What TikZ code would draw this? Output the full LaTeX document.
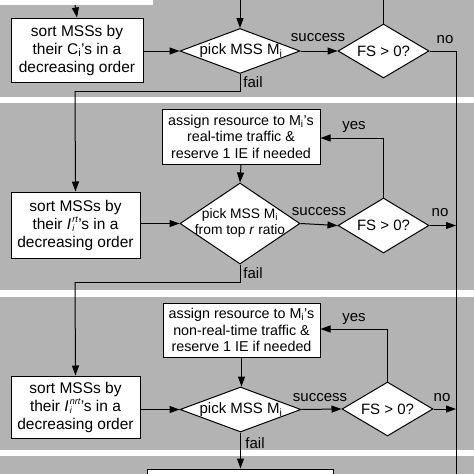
\documentclass[tikz,border=0pt]{standalone}
\usepackage{fontspec}
\setmainfont{Liberation Sans}
\usetikzlibrary{arrows.meta,shapes.geometric}
\definecolor{panelgray}{RGB}{179,179,179}
\newcommand{\supsub}[2]{\kern1pt\raisebox{-2.6pt}{\fontsize{9}{9}\selectfont\itshape\shortstack[l]{#1\\#2}}\kern0.5pt}
\begin{document}
\begin{tikzpicture}[x=1pt,y=-1pt,
  box/.style={draw=black, fill=white, line width=1pt, inner sep=0pt, align=center, font=\fontsize{15.5}{18}\selectfont},
  abox/.style={box, font=\fontsize{14.3}{16.5}\selectfont},
  dia/.style={draw=black, fill=white, line width=1pt, shape=diamond, inner sep=0pt},
  txt/.style={inner sep=0pt, align=center, font=\fontsize{15}{16}\selectfont},
  txtb/.style={txt, font=\fontsize{13.8}{16}\selectfont},
  lbl/.style={inner sep=0pt, font=\fontsize{15}{15}\selectfont},
  arr/.style={line width=1pt, -{Triangle[length=10pt,width=7pt]}},
  ln/.style={line width=1pt}
]
\useasboundingbox (0,0) rectangle (474,474);
% panels
\fill[white] (0,0) rectangle (474,474);
\fill[panelgray] (0,0) rectangle (474,97);
\fill[panelgray] (0,103) rectangle (474,290);
\fill[panelgray] (0,297) rectangle (474,450);
\fill[panelgray] (0,456) rectangle (474,474);
\fill[white] (0,0) rectangle (153,5);

% coordinates at picture edges
\coordinate (in1) at (75,5);
\coordinate (in2) at (240,0);
\coordinate (up1) at (383.5,0);
\coordinate (c1) at (456,51);
\coordinate (bot) at (456,474);

% panel 1
\node[box, minimum width=132, minimum height=64] (sort1) at (77,50) {sort MSSs by\\their C\textsubscript{i}’s in a\\decreasing order};
\node[dia, minimum width=120, minimum height=45] (d1) at (240,51) {};
\node[txt] (d1t) at (241,51) {pick MSS M\textsubscript{i}};
\node[dia, minimum width=91, minimum height=54] (fs1) at (383.5,51) {};
\node[txt] (fs1t) at (383.5,51) {FS > 0?};

\draw[arr] (in1) -- (sort1.north);
\draw[arr] (in2) -- (d1.north);
\draw[arr] (sort1.east |- d1.west) -- (d1.west);
\draw[arr] (d1.east) -- (fs1.west);
\draw[ln] (fs1.north) -- (up1);
\draw[ln] (fs1.east) -- (c1) -- (bot);
\node[lbl] (s1) at (318,38) {success};
\node[lbl] (f1) at (253,82) {fail};
\node[lbl] (n1) at (445,40) {no};

% panel 2
\node[abox, minimum width=158, minimum height=55] (as2) at (241,136.5) {assign resource to M\textsubscript{i}’s\\real-time traffic \&\\reserve 1 IE if needed};
\node[dia, minimum width=120, minimum height=81] (d2) at (240,223.5) {};
\node[txtb] (d2t) at (240,223) {pick MSS M\textsubscript{i}\\from top \textit{r} ratio};
\node[box, minimum width=129, minimum height=66] (sort2) at (75.5,225) {sort MSSs by\\their \textit{I}\supsub{rt}{i}’s in a\\decreasing order};
\node[dia, minimum width=91, minimum height=55] (fs2) at (383.5,225.5) {};
\node[txt] (fs2t) at (383.5,225.5) {FS > 0?};
\coordinate (y2) at (383.5,138);
\coordinate (n2e) at (456,225.5);

\draw[ln] (d1.south) -- (240,91) -- (75,91) coordinate (f1c);
\draw[arr] (f1c) -- (sort2.north);
\draw[arr] (as2.south) -- (d2.north);
\draw[arr] (sort2.east |- d2.west) -- (d2.west);
\draw[arr] (d2.east) -- (fs2.west);
\draw[arr] (fs2.north) -- (y2) -- (as2.east |- y2);
\draw[arr] (fs2.east) -- (n2e);
\node[lbl] (s2) at (319,212) {success};
\node[lbl] (y2l) at (354,127) {yes};
\node[lbl] (n2) at (440,213) {no};
\node[lbl] (f2) at (253,273) {fail};

% panel 3
\node[abox, minimum width=157, minimum height=54] (as3) at (241.5,330) {assign resource to M\textsubscript{i}’s\\non-real-time traffic \&\\reserve 1 IE if needed};
\node[dia, minimum width=121, minimum height=45] (d3) at (240.5,409.5) {};
\node[txt] (d3t) at (241,409.5) {pick MSS M\textsubscript{i}};
\node[box, minimum width=129, minimum height=62] (sort3) at (75.5,407) {sort MSSs by\\their \textit{I}\supsub{nrt}{i}’s in a\\decreasing order};
\node[dia, minimum width=91, minimum height=54] (fs3) at (387.5,409) {};
\node[txt] (fs3t) at (387.5,409) {FS > 0?};
\coordinate (y3) at (387.5,329);
\coordinate (n3e) at (456,409);

\draw[ln] (d2.south) -- (240,282) -- (75,282) coordinate (f2c);
\draw[arr] (f2c) -- (sort3.north);
\draw[arr] (as3.south) -- (as3.south |- d3.north);
\draw[arr] (sort3.east |- d3.west) -- (d3.west);
\draw[arr] (d3.east) -- (fs3.west);
\draw[arr] (fs3.north) -- (y3) -- (as3.east |- y3);
\draw[arr] (fs3.east) -- (n3e);
\node[lbl] (s3) at (320,398) {success};
\node[lbl] (y3l) at (354,319) {yes};
\node[lbl] (n3) at (442,398) {no};
\node[lbl] (f3) at (255,443) {fail};

% panel 4
\node[box, minimum width=186, minimum height=42] (b4) at (240,490) {};
\draw[arr] (d3.south) -- (d3.south |- b4.north);
\end{tikzpicture}
\end{document}
